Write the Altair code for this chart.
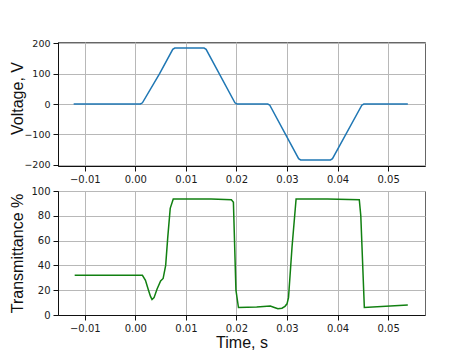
import altair as alt
import pandas as pd

# Voltage trace
v_time = [-0.0122, 0.0010, 0.0014, 0.0048, 0.0074, 0.0078, 0.0136, 0.0140, 0.0197, 0.0201,
          0.0262, 0.0266, 0.0323, 0.0327, 0.0386, 0.0390, 0.0448, 0.0452, 0.0539]
v_volt = [0, 0, 4, 100, 180, 184, 184, 180, 4, 0,
          0, -4, -180, -184, -184, -180, -4, 0, 0]

# Transmittance trace
t_time = [-0.0120, 0.0014, 0.0020, 0.0026, 0.0030, 0.0033, 0.0037, 0.0043, 0.0050, 0.0055,
          0.0060, 0.0064, 0.0069, 0.0075, 0.0150, 0.0190, 0.0194, 0.0199, 0.0204, 0.0240,
          0.0267, 0.0275, 0.0282, 0.0290, 0.0296, 0.0300, 0.0303, 0.0310, 0.0318, 0.0380,
          0.0443, 0.0446, 0.0453, 0.0539]
t_trans = [32, 32, 28, 20, 15, 12.5, 14, 21, 27.5, 29.5,
           40, 62, 86, 93.5, 93.5, 93, 91, 20, 6, 6.5,
           7.2, 6.0, 5.0, 5.5, 7, 9, 14, 55, 93.5, 93.5,
           93, 80, 6, 8]

x_ticks = [-0.01, 0.0, 0.01, 0.02, 0.03, 0.04, 0.05]
v_ticks = [-200, -100, 0, 100, 200]
t_ticks = [0, 20, 40, 60, 80, 100]

dv = pd.DataFrame({"t": v_time, "v": v_volt})
dt = pd.DataFrame({"t": t_time, "tr": t_trans})

xdom = [-0.0153, 0.0573]
W, H = 367, 124

top = alt.Chart(dv).mark_line(color="#1f77b4", strokeWidth=1.5).encode(
    x=alt.X("t:Q", scale=alt.Scale(domain=xdom, nice=False, zero=False),
            axis=alt.Axis(values=x_ticks, format=".2f", title=None)),
    y=alt.Y("v:Q", scale=alt.Scale(domain=[-204, 204], nice=False),
            axis=alt.Axis(values=v_ticks, format="d", title="Voltage, V", titleX=-36,
                          titleY=H / 2 - 6, titleBaseline="alphabetic", titleAngle=270,
                          titleAlign="center", labelFontSize=9.5)),
).properties(width=W, height=H)

bottom = alt.Chart(dt).mark_line(color="#118011", strokeWidth=1.5).encode(
    x=alt.X("t:Q", scale=alt.Scale(domain=xdom, nice=False, zero=False),
            axis=alt.Axis(values=x_ticks, format=".2f", title="Time, s",
                          titleY=32, titleBaseline="alphabetic")),
    y=alt.Y("tr:Q", scale=alt.Scale(domain=[0, 100], nice=False),
            axis=alt.Axis(values=t_ticks, title="Transmittance %", titleX=-36,
                          titleY=H / 2, titleBaseline="alphabetic", titleAngle=270,
                          titleAlign="center")),
).properties(width=W, height=H)

chart = alt.vconcat(top, bottom, spacing=0).properties(
    padding={"left": 8, "top": 37, "right": 10, "bottom": 5},
    background="white",
).configure_axis(
    labelFont="DejaVu Sans", labelFontSize=10, labelColor="#1a1a1a",
    titleFont="Liberation Sans", titleFontSize=16, titleFontWeight="normal",
    titleColor="#111111", gridColor="#b8b8b8", gridWidth=1,
    domainColor="#111111", tickColor="#111111", tickSize=5, labelPadding=3,
).configure_view(stroke="#666666", strokeWidth=1)

chart.save("out.html", embed_options={"renderer": "svg", "actions": False})
